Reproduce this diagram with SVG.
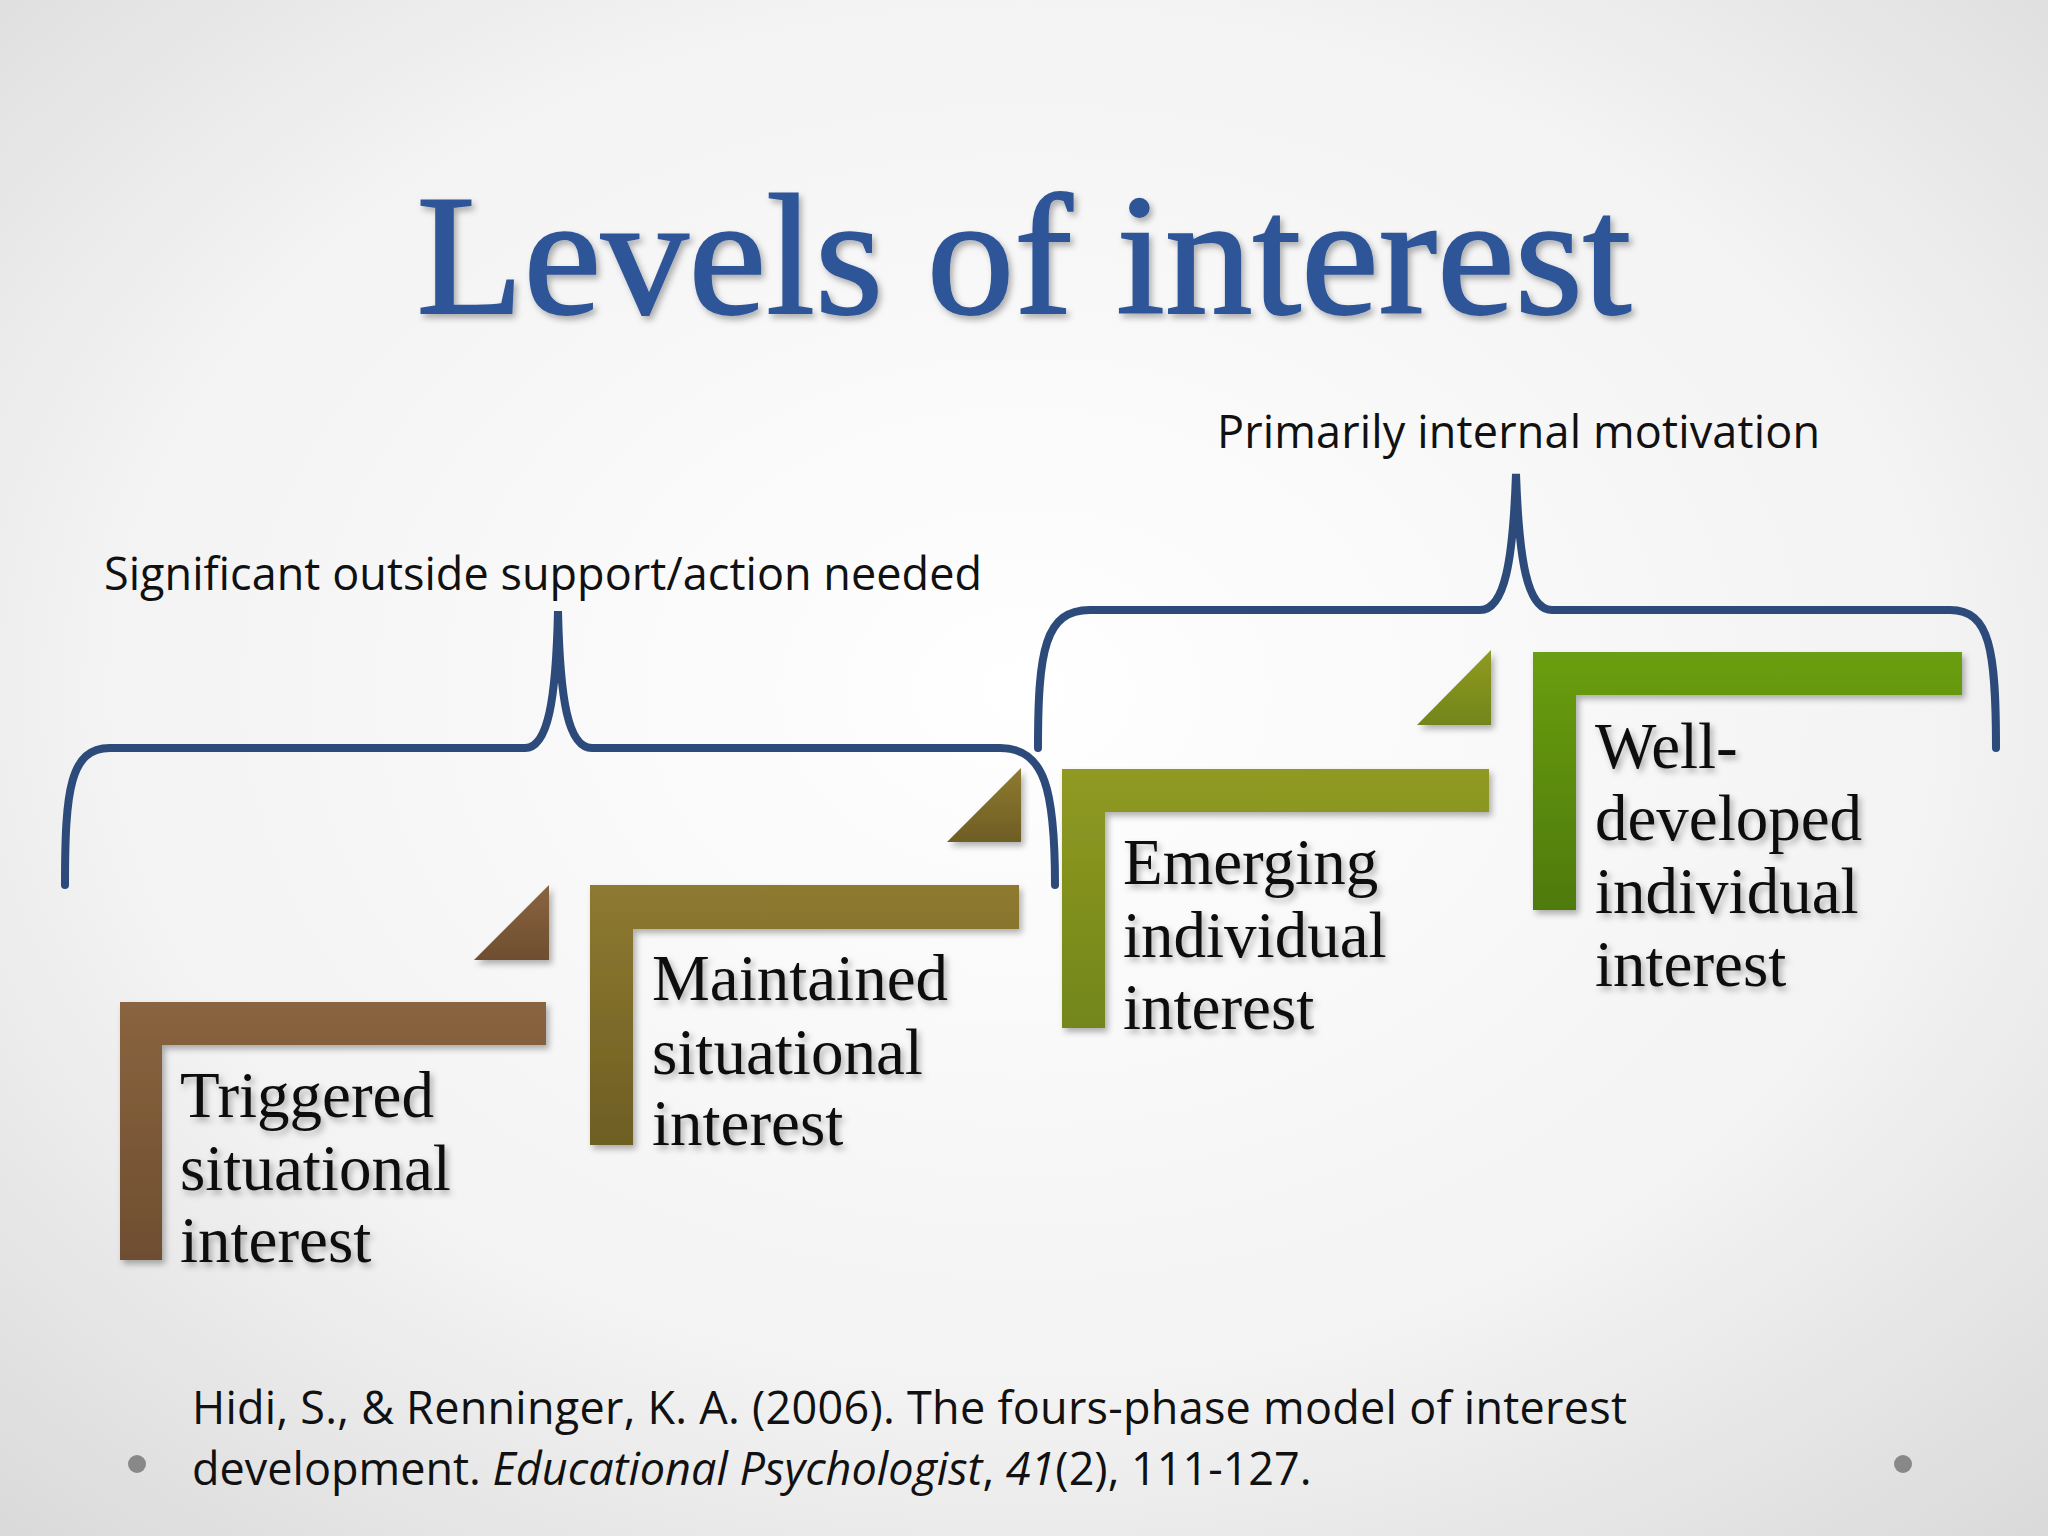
<svg xmlns="http://www.w3.org/2000/svg" width="2048" height="1536" viewBox="0 0 2048 1536">
<defs>
<radialGradient id="bg" cx="50%" cy="45%" r="75%">
<stop offset="0" stop-color="#ffffff"/><stop offset="0.6" stop-color="#f3f3f3"/><stop offset="1" stop-color="#d9d9d9"/>
</radialGradient>
<linearGradient id="g1" x1="0" y1="0" x2="0" y2="1"><stop offset="0" stop-color="#8A6440"/><stop offset="1" stop-color="#6E4E30"/></linearGradient>
<linearGradient id="g2" x1="0" y1="0" x2="0" y2="1"><stop offset="0" stop-color="#8E7A30"/><stop offset="1" stop-color="#6E5E24"/></linearGradient>
<linearGradient id="g3" x1="0" y1="0" x2="0" y2="1"><stop offset="0" stop-color="#909A22"/><stop offset="1" stop-color="#72861A"/></linearGradient>
<linearGradient id="g4" x1="0" y1="0" x2="0" y2="1"><stop offset="0" stop-color="#6A9E12"/><stop offset="1" stop-color="#4E7A0C"/></linearGradient>
<filter id="sh" x="-10%" y="-10%" width="130%" height="130%"><feDropShadow dx="3" dy="4" stdDeviation="3" flood-opacity="0.3"/></filter>
</defs>
<style>
.lbl{font-family:"Liberation Serif","DejaVu Serif",serif;font-size:65px;fill:#111}
.sm{font-family:"Open Sans","Liberation Sans",sans-serif;font-size:45px;fill:#111}
.brace{fill:none;stroke:#2C4A7A;stroke-width:8;stroke-linecap:round}
</style>
<rect width="2048" height="1536" fill="url(#bg)"/>
<text x="1024" y="313" text-anchor="middle" font-family="Liberation Serif, serif" font-size="172" textLength="1215" lengthAdjust="spacingAndGlyphs" fill="#2F5597" stroke="#2F5597" stroke-width="2" filter="url(#sh)">Levels of interest</text>
<text class="sm" x="1217" y="448" textLength="603">Primarily internal motivation</text>
<text class="sm" x="104" y="590" textLength="878">Significant outside support/action needed</text>
<g id="connectors">
<path class="brace" d="M65,885 C65,790 70,748 110,748 L525,748 C548,748 556,700 558,611 C560,700 568,748 592,748 L1000,748 C1045,748 1055,790 1055,885"/>
<path class="brace" d="M1038,748 C1038,650 1045,610 1090,610 L1480,610 C1505,610 1513,560 1516,474 C1519,560 1527,610 1552,610 L1950,610 C1990,610 1996,650 1996,748"/>
</g>
<g id="n1" filter="url(#sh)">
<path d="M120,1002 H546 V1045 H162 V1260 H120 Z" fill="url(#g1)"/>
<path d="M474,960 L549,885 V960 Z" fill="url(#g1)"/>
<text class="lbl"><tspan x="180" y="1117">Triggered</tspan><tspan x="180" y="1190">situational</tspan><tspan x="180" y="1262">interest</tspan></text>
</g>
<g id="n2" filter="url(#sh)">
<path d="M590,885 H1019 V929 H633 V1145 H590 Z" fill="url(#g2)"/>
<path d="M947,842 L1021,768 V842 Z" fill="url(#g2)"/>
<text class="lbl"><tspan x="652" y="1000">Maintained</tspan><tspan x="652" y="1074">situational</tspan><tspan x="652" y="1145">interest</tspan></text>
</g>
<g id="n3" filter="url(#sh)">
<path d="M1062,769 H1489 V812 H1105 V1028 H1062 Z" fill="url(#g3)"/>
<path d="M1417,725 L1491,650 V725 Z" fill="url(#g3)"/>
<text class="lbl"><tspan x="1123" y="884">Emerging</tspan><tspan x="1123" y="957">individual</tspan><tspan x="1123" y="1029">interest</tspan></text>
</g>
<g id="n4" filter="url(#sh)">
<path d="M1533,652 H1962 V695 H1576 V910 H1533 Z" fill="url(#g4)"/>
<text class="lbl"><tspan x="1595" y="768">Well-</tspan><tspan x="1595" y="840">developed</tspan><tspan x="1595" y="913">individual</tspan><tspan x="1595" y="986">interest</tspan></text>
</g>
<text class="sm"><tspan x="192" y="1424" textLength="1435">Hidi, S., &amp; Renninger, K. A. (2006). The fours-phase model of interest</tspan><tspan x="192" y="1485">development. <tspan font-style="italic">Educational Psychologist</tspan>, <tspan font-style="italic">41</tspan>(2), 111-127.</tspan></text>
<circle cx="137" cy="1464" r="9" fill="#888"/>
<circle cx="1903" cy="1464" r="9" fill="#888"/>
</svg>
